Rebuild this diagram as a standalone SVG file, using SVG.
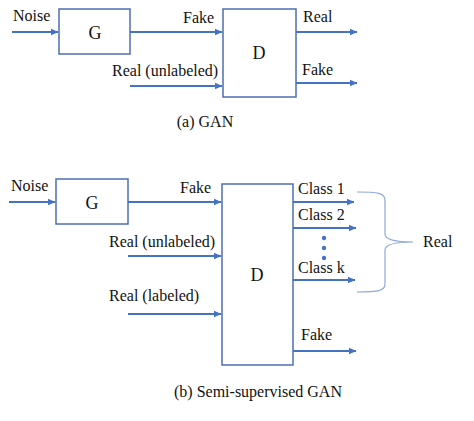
<svg xmlns="http://www.w3.org/2000/svg" width="474" height="421" viewBox="0 0 474 421" font-family="'Liberation Serif','Times New Roman','DejaVu Serif',serif">
<defs>
<style>
text{font-family:'Liberation Serif','Times New Roman','DejaVu Serif',serif;font-size:16px;fill:#111}
.big{font-size:18px}
.box{fill:#fff;stroke:#4a6fb5;stroke-width:1.5}
.arr{stroke:#4472c4;stroke-width:2;fill:none;marker-end:url(#ah)}
.brace{stroke:#8eaadb;stroke-width:1.2;fill:none}
</style>
<marker id="ah" markerUnits="userSpaceOnUse" markerWidth="8" markerHeight="8" refX="7" refY="4" orient="auto">
<path d="M0,0.8 L7.5,4 L0,7.2 Z" fill="#4472c4"/>
</marker>
</defs>
<rect width="474" height="421" fill="#fff"/>

<!-- (a) GAN -->
<g id="a-G"><rect class="box" x="59" y="9" width="71" height="45"/><text class="big" x="95" y="39" text-anchor="middle">G</text></g>
<g id="a-D"><rect class="box" x="223" y="9" width="73" height="88"/><text class="big" x="259" y="59" text-anchor="middle">D</text></g>
<g id="a-connectors">
<line class="arr" x1="12" y1="32" x2="58" y2="32"/>
<line class="arr" x1="130" y1="32" x2="222" y2="32"/>
<line class="arr" x1="130" y1="86" x2="222" y2="86"/>
<line class="arr" x1="296" y1="32" x2="357" y2="32"/>
<line class="arr" x1="296" y1="83" x2="357" y2="83"/>
</g>
<g id="a-labels">
<text x="13" y="21">Noise</text>
<text x="183" y="23">Fake</text>
<text x="112" y="76">Real (unlabeled)</text>
<text x="303" y="22">Real</text>
<text x="302" y="75">Fake</text>
<text x="205" y="127" text-anchor="middle">(a) GAN</text>
</g>

<!-- (b) Semi-supervised GAN -->
<g id="b-G"><rect class="box" x="56" y="179" width="72" height="45"/><text class="big" x="92" y="209" text-anchor="middle">G</text></g>
<g id="b-D"><rect class="box" x="222" y="184" width="71" height="181"/><text class="big" x="257" y="281" text-anchor="middle">D</text></g>
<g id="b-connectors">
<line class="arr" x1="9" y1="202" x2="55" y2="202"/>
<line class="arr" x1="128" y1="202" x2="221" y2="202"/>
<line class="arr" x1="128" y1="256" x2="221" y2="256"/>
<line class="arr" x1="128" y1="314" x2="221" y2="314"/>
<line class="arr" x1="293" y1="202" x2="354" y2="202"/>
<line class="arr" x1="293" y1="228" x2="356" y2="228"/>
<line class="arr" x1="293" y1="280" x2="355" y2="280"/>
<line class="arr" x1="293" y1="351" x2="356" y2="351"/>
<path class="brace" d="M357,192 C378,192 385,193 385,200 L385,234 C385,240 395,242 413,242 C395,242 385,244 385,250 L385,284 C385,291 378,292 357,292"/>
</g>
<g id="b-dots" fill="#4472c4">
<circle cx="324" cy="238" r="2.2"/><circle cx="324" cy="248" r="2.2"/><circle cx="324" cy="258" r="2.2"/>
</g>
<g id="b-labels">
<text x="11" y="191">Noise</text>
<text x="180" y="193">Fake</text>
<text x="109" y="247">Real (unlabeled)</text>
<text x="109" y="301">Real (labeled)</text>
<text x="298" y="194">Class 1</text>
<text x="298" y="220">Class 2</text>
<text x="298" y="273">Class k</text>
<text x="301" y="340">Fake</text>
<text x="423" y="247">Real</text>
<text x="174" y="397">(b) Semi-supervised  GAN</text>
</g>
</svg>
